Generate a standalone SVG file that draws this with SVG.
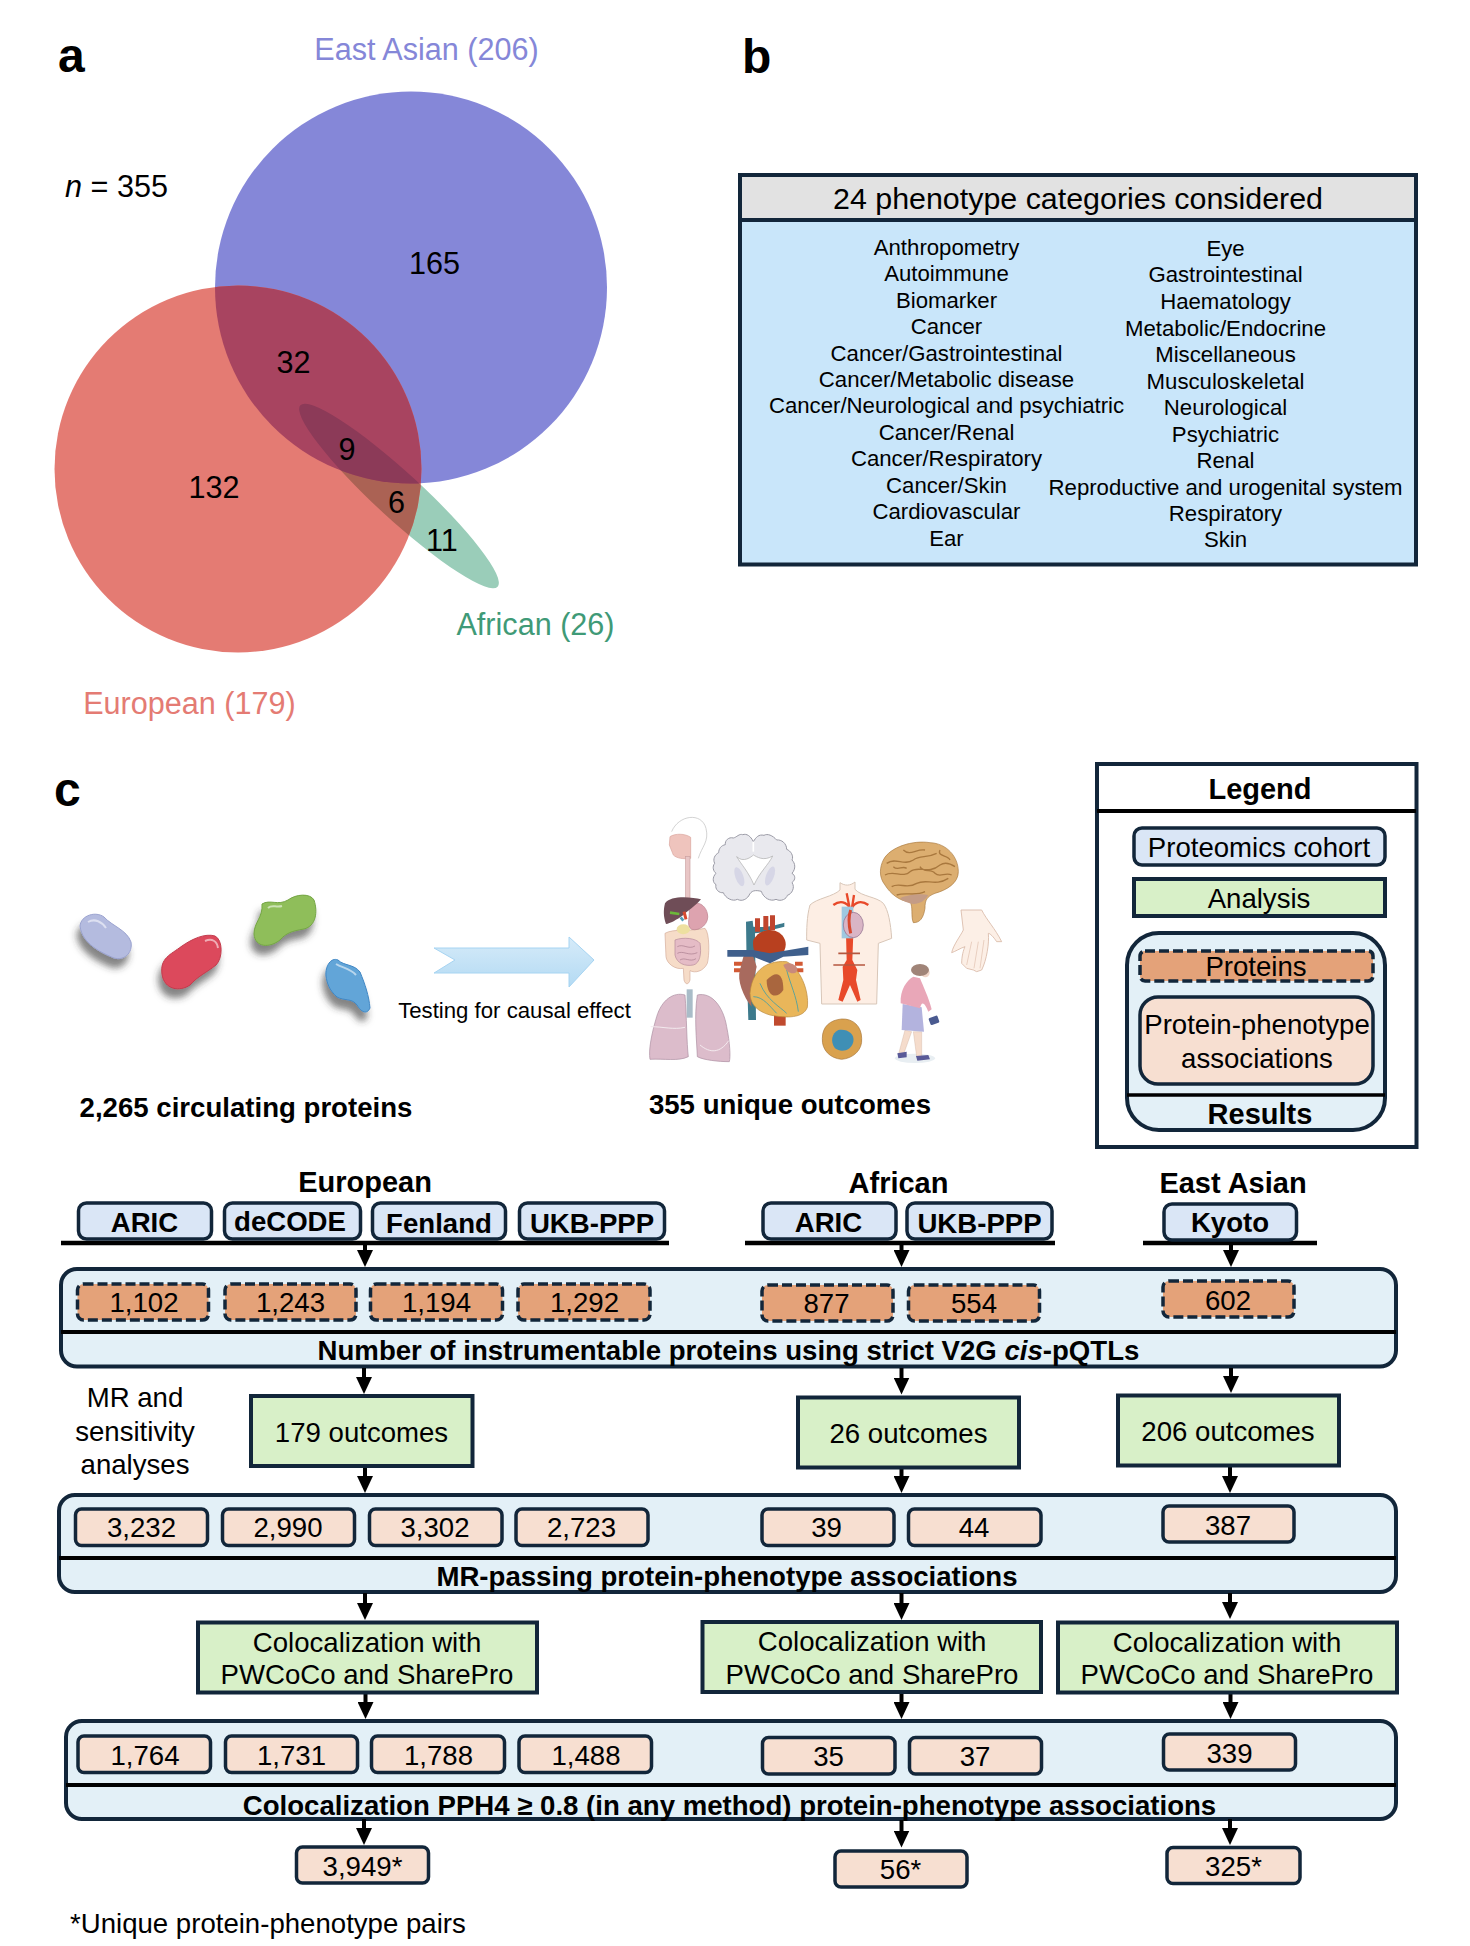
<svg xmlns="http://www.w3.org/2000/svg" width="1470" height="1946" viewBox="0 0 1470 1946">
<style>
text{font-family:"Liberation Sans",Arial,Helvetica,sans-serif;fill:#000;text-anchor:middle;font-size:27.6px}
.b{font-weight:700}
.h{font-weight:700;font-size:29px}
.st{text-anchor:start}
.lab{font-size:48px;font-weight:700;text-anchor:start}
.v{font-size:30.6px}
.l{font-size:22.2px}
.coh{fill:#dae6f6;stroke:#12263a;stroke-width:3.5}
.pro{fill:#e4a279;stroke:#12263a;stroke-width:3.5;stroke-dasharray:10 4}
.ass{fill:#f7dfd1;stroke:#12263a;stroke-width:3.5}
.ana{fill:#d8f0c8;stroke:#12263a;stroke-width:4}
.res{fill:#e3f0f7;stroke:#12263a;stroke-width:4}
.bar{stroke:#000;stroke-width:4.5}
.ln{stroke:#000;stroke-width:4;marker-end:url(#ah)}
.sh{filter:url(#ds)}
</style>
<defs>
<marker id="ah" markerUnits="userSpaceOnUse" viewBox="0 0 17 16" markerWidth="17" markerHeight="16" refX="5" refY="8" orient="auto"><path d="M0 0L17 8L0 16Z" fill="#000"/></marker>
<linearGradient id="ag" x1="0" y1="0" x2="0" y2="1"><stop offset="0" stop-color="#d6ebf9"/><stop offset="1" stop-color="#b3daf3"/></linearGradient>
<filter id="ds" x="-40%" y="-40%" width="180%" height="200%"><feDropShadow dx="-3" dy="9" stdDeviation="3.5" flood-color="#333" flood-opacity=".6"/></filter>
<clipPath id="cr"><circle cx="238" cy="469" r="183.5"/></clipPath>
<clipPath id="cb"><circle cx="411" cy="287.5" r="196"/></clipPath>
</defs>

<g id="panel-a">
<text class="lab" x="58" y="72">a</text>
<text class="v" x="426.500" y="60" style="fill:#8587d8">East Asian (206)</text>
<text class="v" x="535.500" y="635" style="fill:#3f9a77">African (26)</text>
<text class="v" x="189.500" y="713.500" style="fill:#e47b73">European (179)</text>
<text class="v st" x="65" y="197"><tspan font-style="italic">n</tspan> = 355</text>
<g id="venn-green"><ellipse cx="399" cy="496" rx="134" ry="23" transform="rotate(42.6 399 496)" fill="#9acdb9"/></g>
<g id="venn-blue"><circle cx="411" cy="287.5" r="196" fill="#8587d8"/></g>
<g id="venn-red"><circle cx="238" cy="469" r="183.5" fill="#e47b73"/></g>
<g clip-path="url(#cr)"><ellipse cx="399" cy="496" rx="134" ry="23" transform="rotate(42.6 399 496)" fill="#ab6254"/>
<g clip-path="url(#cb)"><rect x="0" y="0" width="700" height="700" fill="#a84460"/><ellipse cx="399" cy="496" rx="134" ry="23" transform="rotate(42.6 399 496)" fill="#8c3a58"/></g></g>
<text class="v" x="434.500" y="274">165</text>
<text class="v" x="293.500" y="373">32</text>
<text class="v" x="347" y="460">9</text>
<text class="v" x="214" y="498">132</text>
<text class="v" x="396.500" y="513">6</text>
<text class="v" x="442" y="551">11</text>
</g>

<g id="panel-b">
<text class="lab" x="742" y="73">b</text>
<rect x="740" y="175" width="676" height="389.500" fill="#c9e6fa" stroke="#12263a" stroke-width="4"/>
<rect x="740" y="175" width="676" height="45" fill="#e2e2e2" stroke="#12263a" stroke-width="4"/>
<text x="1078" y="208.500" style="font-size:30.4px">24 phenotype categories considered</text>
<g class="col">
<text class="l" x="946.500" y="254.500">Anthropometry</text>
<text class="l" x="946.500" y="281">Autoimmune</text>
<text class="l" x="946.500" y="307.500">Biomarker</text>
<text class="l" x="946.500" y="333.800">Cancer</text>
<text class="l" x="946.500" y="360.500">Cancer/Gastrointestinal</text>
<text class="l" x="946.500" y="386.700">Cancer/Metabolic disease</text>
<text class="l" x="946.500" y="413.200">Cancer/Neurological and psychiatric</text>
<text class="l" x="946.500" y="439.700">Cancer/Renal</text>
<text class="l" x="946.500" y="466.100">Cancer/Respiratory</text>
<text class="l" x="946.500" y="492.500">Cancer/Skin</text>
<text class="l" x="946.500" y="519">Cardiovascular</text>
<text class="l" x="946.500" y="545.500">Ear</text>
<text class="l" x="1225.500" y="255.500">Eye</text>
<text class="l" x="1225.500" y="282">Gastrointestinal</text>
<text class="l" x="1225.500" y="308.500">Haematology</text>
<text class="l" x="1225.500" y="335.500">Metabolic/Endocrine</text>
<text class="l" x="1225.500" y="361.500">Miscellaneous</text>
<text class="l" x="1225.500" y="388.500">Musculoskeletal</text>
<text class="l" x="1225.500" y="414.500">Neurological</text>
<text class="l" x="1225.500" y="441.500">Psychiatric</text>
<text class="l" x="1225.500" y="467.500">Renal</text>
<text class="l" x="1225.500" y="494.500">Reproductive and urogenital system</text>
<text class="l" x="1225.500" y="521">Respiratory</text>
<text class="l" x="1225.500" y="547">Skin</text>
</g>
</g>

<g id="panel-c-top">
<text class="lab" x="54" y="806">c</text>
<g id="protein-blobs">
<path class="sh" d="M80 926C81 915 96 911 104 917C112 926 127 930 131 942C133 953 124 961 114 958C102 953 82 944 80 926Z" fill="#b4bbdf" stroke="#9aa2cf"/>
<path class="sh" d="M162 974C160 958 170 955 182 946C192 939 205 933 215 936C223 940 223 958 216 965C206 973 198 976 190 985C180 992 164 990 162 974Z" fill="#dc4a5c" stroke="#c23a4c"/>
<path class="sh" d="M262 904C270 899 278 906 288 900C296 894 310 893 314 900C318 912 316 926 304 929C292 931 286 933 280 940C270 948 255 948 254 934C254 922 263 918 262 904Z" fill="#8fbe5a" stroke="#74a544"/>
<path class="sh" d="M326 976C325 966 331 957 338 960C344 966 354 964 360 972C365 984 369 996 370 1008C367 1015 361 1012 357 1005C352 998 344 1001 337 997C329 990 327 983 326 976Z" fill="#62a5d8" stroke="#3f86c4"/>
<path d="M88 922C95 918 102 922 106 928M205 941C212 938 217 941 218 948M268 908C272 904 276 908 282 906M336 964C342 968 350 968 356 975" fill="none" stroke="#fff" stroke-opacity=".55" stroke-width="2"/>
</g>
<path id="big-arrow" d="M434 948H569V937L594 960L569 987V973H434L455 960Z" fill="url(#ag)" stroke="#a6d4f2" stroke-width="1"/>
<text class="l" x="514.500" y="1018">Testing for causal effect</text>
<text class="b" x="246" y="1116.500">2,265 circulating proteins</text>
<text class="b" x="790" y="1113.500">355 unique outcomes</text>

<g id="organs" transform="translate(620 800) scale(.33333)">
<g id="digestive">
<path d="M155 95C175 45 245 35 258 85C268 125 245 140 235 175" fill="none" stroke="#bdbdbd" stroke-width="2"/>
<path d="M150 110C165 100 195 100 212 112L212 175C190 178 170 175 160 165L148 135Z" fill="#efc4bd" stroke="#d9a39c" stroke-width="2"/>
<rect x="197" y="170" width="13" height="125" fill="#e9c6c6" stroke="#c9a0a0" stroke-width="2"/>
<path d="M135 400C160 385 210 395 255 385C270 400 268 470 262 490C250 515 225 520 210 512L210 540C206 555 196 555 192 540L190 505C165 510 140 490 138 470Z" fill="#f6dcc8" stroke="#d3ab98" stroke-width="2"/>
<path d="M165 420C190 410 230 415 240 430C245 460 240 490 220 495C195 500 170 490 165 465Z" fill="#e5bcc6" stroke="#b58a98" stroke-width="2"/>
<path d="M172 440C190 430 205 450 225 438M172 460C190 450 205 470 232 458M180 480C195 470 210 488 228 476" fill="none" stroke="#a87c8c" stroke-width="2"/>
<ellipse cx="190" cy="388" rx="20" ry="15" fill="#ede0a0"/>
<path d="M205 318C225 300 255 310 262 340C270 370 240 395 215 388C195 375 215 345 205 318Z" fill="#dda3af" stroke="#b97d8b" stroke-width="2"/>
<path d="M135 310C150 285 215 290 243 298C225 320 205 330 190 345C170 360 150 370 138 372C130 350 130 330 135 310Z" fill="#6f4d57"/>
<path d="M150 338L178 342" stroke="#6cb83a" stroke-width="8"/>
<path d="M192 335L198 358" stroke="#d8492f" stroke-width="9"/><path d="M182 352L190 362" stroke="#4f9db8" stroke-width="8"/>
</g>
<g id="lungs">
<rect x="200" y="568" width="18" height="85" fill="#a9bcc8"/>
<path d="M195 585C160 575 125 600 110 650C95 700 85 750 90 778C130 775 175 785 205 770C200 730 200 650 195 585Z" fill="#dcbccb" stroke="#ab8ca0" stroke-width="2"/>
<path d="M232 585C275 575 310 620 320 680C330 730 332 770 328 785C295 785 250 780 232 770C230 720 222 650 232 585Z" fill="#dcbccb" stroke="#ab8ca0" stroke-width="2"/>
<path d="M92 680C130 680 160 690 195 682M240 735C270 760 300 760 326 722" fill="none" stroke="#f3eaee" stroke-width="3"/>
</g>
<g id="coronal-brain">
<path d="M400 125C392 108 380 100 368 104C358 100 350 112 340 114C326 110 314 122 316 134C304 136 296 146 296 158C284 164 278 178 284 190C276 200 280 214 288 220C276 232 278 248 288 254C284 268 298 280 310 278C316 294 338 306 352 298C368 306 380 296 386 288C394 270 406 270 424 274C430 294 452 306 468 298C484 306 500 296 502 286C516 282 526 262 516 248C528 238 526 226 516 220C528 206 526 190 516 180C522 168 512 152 500 148C500 130 484 118 470 120C458 106 442 100 432 106C416 102 408 112 400 125Z" fill="#e9e9ee" stroke="#9a9aa5" stroke-width="3"/>
<path d="M350 170C370 190 395 170 400 165C410 170 430 185 458 168C445 195 420 215 402 255C385 215 365 195 350 170Z" fill="#fff" stroke="#aaa" stroke-width="2"/>
<ellipse cx="358" cy="230" rx="12" ry="30" fill="#d6d6e6" transform="rotate(-20 358 230)"/><ellipse cx="450" cy="228" rx="12" ry="30" fill="#d6d6e6" transform="rotate(20 450 228)"/>
<path d="M400 125V155" stroke="#fff" stroke-width="5"/>
</g>
<g id="heart">
<path d="M378 365L398 362L400 380C430 385 470 375 493 368L493 380C470 385 440 395 405 400L408 660L385 660L380 500Z" fill="#3d7a8c"/>
<path d="M405 355H420V395H405ZM430 348H445V390H430ZM450 346H465V390H450Z" fill="#c0452e"/>
<path d="M342 485H370V497H342ZM342 505H370V517H342ZM525 485H548V497H525ZM528 505H550V517H528Z" fill="#d25a35"/>
<path d="M400 420C420 380 480 380 495 420C505 450 480 480 440 480C410 480 395 450 400 420Z" fill="#b8401f"/>
<path d="M462 640H497V677H462Z" fill="#c04a2e"/>
<path d="M370 470C395 440 400 470 410 500C400 540 390 590 395 620C370 590 350 540 360 510Z" fill="#a86a5e"/>
<path d="M390 580C395 520 430 480 500 485C540 505 568 570 562 622C550 655 500 655 450 645C415 635 390 615 390 580Z" fill="#e9b65a" stroke="#b8863a" stroke-width="2"/>
<path d="M440 540C470 510 490 520 490 570C470 600 440 590 440 540Z" fill="#a9663e"/>
<path d="M420 550C440 600 480 620 500 640M500 510C510 550 530 590 535 635M400 590C430 590 450 620 470 640" fill="none" stroke="#5ea39a" stroke-width="3"/>
<path d="M322 450L400 450L450 460L565 440L565 465L490 470L450 490L400 470L322 470Z" fill="#3f5f8c"/>
<path d="M490 495C510 480 540 500 530 515C520 525 500 520 490 495Z" fill="#c98a7c"/>
</g>
<g id="torso">
<path d="M660 248L660 270C640 290 590 295 570 315C560 350 560 390 560 420L600 430L605 612L770 612L775 430L815 415C812 370 805 330 790 310C770 290 725 290 705 268L705 246C690 258 675 258 660 248Z" fill="#fdeee4" stroke="#d8c6b8" stroke-width="3"/>
<path d="M640 315C660 300 680 305 690 325M745 315C725 300 705 305 695 325M680 280L690 330M702 285L695 330" fill="none" stroke="#e8492a" stroke-width="7"/>
<path d="M678 400L700 400L697 480L712 510L708 540L722 600L712 605L690 555L668 605L655 600L670 540L668 500L680 480Z" fill="#e8492a"/>
<rect x="665" y="320" width="35" height="95" fill="#9ec8e0"/>
<ellipse cx="700" cy="375" rx="30" ry="38" fill="#d9b5c5" stroke="#8a6a8a" stroke-width="2"/>
<path d="M692 330C685 350 685 370 692 400" fill="none" stroke="#d8492f" stroke-width="9"/>
<path d="M655 460L720 460M640 495L735 495" stroke="#b5573f" stroke-width="5"/>
</g>
<g id="brain">
<path d="M790 180C810 140 880 120 930 128C980 130 1015 170 1015 215C1015 250 980 270 945 280C920 290 915 300 915 325C910 355 900 368 880 368C872 350 880 320 870 305C840 305 810 280 795 255C775 230 780 200 790 180Z" fill="#dcae70" stroke="#a9783e" stroke-width="2"/>
<path d="M800 190C830 170 850 200 880 180C900 165 920 175 950 160M795 225C820 210 850 235 870 215C895 195 925 225 960 195C975 185 990 190 1005 200M815 260C840 245 860 270 890 250C920 235 945 260 985 235M850 150C870 170 890 145 915 150M830 285C860 275 885 290 915 275M820 200C835 215 845 195 860 205M900 200C910 220 935 205 945 220C960 235 975 215 995 225M960 150C950 170 985 165 990 180" fill="none" stroke="#a9783e" stroke-width="4"/>
<path d="M840 295C860 285 900 280 925 285C915 300 905 310 880 312C865 310 850 305 840 295Z" fill="#c49c86"/>
</g>
<g id="hand">
<path d="M1023 330L1085 330C1100 360 1125 385 1145 425L1130 425C1120 410 1110 400 1105 400C1108 430 1100 480 1085 510L1070 515L1060 510L1040 505L1025 490C1025 470 1030 450 1035 440C1020 445 1005 455 995 458C1000 435 1020 410 1030 390Z" fill="#fcefe6" stroke="#d9b8a6" stroke-width="2.500"/>
<path d="M1055 425L1040 495M1075 425L1062 505M1092 420L1080 505" fill="none" stroke="#e9cfc0" stroke-width="3"/>
</g>
<g id="person">
<ellipse cx="885" cy="775" rx="60" ry="14" fill="#e8eef2"/>
<path d="M855 690L835 765L850 765L875 695ZM880 695L890 770L905 770L905 695Z" fill="#f5dccc" stroke="#c9a896" stroke-width="1"/>
<path d="M832 760L860 755L860 772L835 775ZM888 768L925 765L930 778L892 782Z" fill="#5a5a98"/>
<path d="M848 612L905 622L912 695L845 690Z" fill="#b3b3de"/>
<path d="M880 530C860 540 840 570 842 610L900 625C905 600 915 610 925 635L935 628C925 590 910 560 900 535Z" fill="#e9a7b8"/>
<ellipse cx="916" cy="518" rx="13" ry="14" fill="#f0d5c8"/>
<ellipse cx="900" cy="510" rx="27" ry="18" fill="#a08478"/>
<rect x="928" y="650" width="28" height="22" rx="4" transform="rotate(-20 942 661)" fill="#4a5a90"/>
</g>
<g id="cell">
<path d="M665 657C700 655 725 680 725 715C728 750 700 775 665 778C630 775 605 750 607 715C607 680 630 660 665 657Z" fill="#d9a14e" stroke="#a8763a" stroke-width="2"/>
<path d="M655 690C680 685 705 700 700 725C695 750 665 760 645 745C630 725 635 700 655 690Z" fill="#3f8fb5"/>
</g>
</g>
</g>

<g id="legend">
<rect x="1097" y="764" width="319.500" height="383" fill="#fff" stroke="#12263a" stroke-width="4"/>
<path d="M1097 811H1416" stroke="#000" stroke-width="4"/>
<text class="h" x="1260" y="799">Legend</text>
<rect class="coh" x="1134" y="828" width="251" height="37" rx="8"/>
<text x="1259" y="857">Proteomics cohort</text>
<rect class="ana" x="1134" y="879" width="251" height="37"/>
<text x="1259" y="907.500">Analysis</text>
<rect class="res" x="1127" y="933" width="258" height="197" rx="32"/>
<path d="M1127 1095H1385" stroke="#000" stroke-width="3.500"/>
<rect class="pro" x="1140" y="951" width="233" height="30" rx="5"/>
<text x="1256" y="976">Proteins</text>
<rect class="ass" x="1140" y="997" width="233" height="87" rx="18"/>
<text x="1257" y="1034">Protein-phenotype</text>
<text x="1257" y="1068">associations</text>
<text class="h" x="1260" y="1123.500">Results</text>
</g>

<g id="pop-headers">
<text class="h" x="365" y="1191.500">European</text>
<text class="h" x="898.500" y="1193">African</text>
<text class="h" x="1233" y="1193">East Asian</text>
</g>

<g id="panel-1-bg">
<rect class="res" x="61" y="1269" width="1335" height="97.500" rx="16"/>
<path d="M61 1332H1396" stroke="#000" stroke-width="4"/>
<text class="b" x="728.500" y="1359.500">Number of instrumentable proteins using strict V2G <tspan font-style="italic">cis</tspan>-pQTLs</text>
</g>
<g id="panel-2-bg">
<rect class="res" x="59" y="1495" width="1337" height="97" rx="16"/>
<path d="M59 1558H1396" stroke="#000" stroke-width="4"/>
<text class="b" x="727" y="1585.500">MR-passing protein-phenotype associations</text>
</g>
<g id="panel-3-bg">
<rect class="res" x="66" y="1721" width="1330" height="98" rx="16"/>
<path d="M66 1785H1396" stroke="#000" stroke-width="4"/>
<text class="b" x="729.500" y="1815">Colocalization PPH4 ≥ 0.8 (in any method) protein-phenotype associations</text>
</g>

<g id="connectors">
<path class="bar" d="M61 1243H669M745 1243H1055M1143 1243H1317" fill="none"/>
<path class="ln" d="M365 1244V1255"/>
<path class="ln" d="M901.500 1244V1255"/>
<path class="ln" d="M1231 1244V1255"/>
<path class="ln" d="M364 1368V1382"/>
<path class="ln" d="M901.500 1368V1382.500"/>
<path class="ln" d="M1231 1368V1381"/>
<path class="ln" d="M365 1468V1481"/>
<path class="ln" d="M901.500 1469V1481"/>
<path class="ln" d="M1230 1467V1481"/>
<path class="ln" d="M365 1593V1608"/>
<path class="ln" d="M901.500 1593V1608"/>
<path class="ln" d="M1230 1593V1607"/>
<path class="ln" d="M365.500 1694V1707"/>
<path class="ln" d="M901.500 1694V1707"/>
<path class="ln" d="M1230.500 1694V1707"/>
<path class="ln" d="M364 1819V1833"/>
<path class="ln" d="M901.500 1820V1835.500"/>
<path class="ln" d="M1230 1819V1833"/>
</g>

<g id="cohort-eur-aric"><rect class="coh" x="78.500" y="1203" width="133" height="36" rx="8"/><text class="b" x="144.500" y="1231.500">ARIC</text></g>
<g id="cohort-eur-decode"><rect class="coh" x="224.500" y="1203" width="136" height="36" rx="8"/><text class="b" x="290" y="1230.500">deCODE</text></g>
<g id="cohort-eur-fenland"><rect class="coh" x="372.500" y="1203" width="133" height="36" rx="8"/><text class="b" x="439" y="1233">Fenland</text></g>
<g id="cohort-eur-ukb"><rect class="coh" x="519.500" y="1203" width="145" height="36" rx="8"/><text class="b" x="592" y="1232.500">UKB-PPP</text></g>
<g id="cohort-afr-aric"><rect class="coh" x="763" y="1203" width="133" height="36" rx="8"/><text class="b" x="828.500" y="1231.500">ARIC</text></g>
<g id="cohort-afr-ukb"><rect class="coh" x="907" y="1203" width="145" height="36" rx="8"/><text class="b" x="979.500" y="1232.500">UKB-PPP</text></g>
<g id="cohort-eas-kyoto"><rect class="coh" x="1164" y="1204" width="132.500" height="36" rx="8"/><text class="b" x="1230" y="1231.500">Kyoto</text></g>

<g id="p-1102"><rect class="pro" x="77.500" y="1284" width="131" height="36" rx="6"/><text x="144" y="1312">1,102</text></g>
<g id="p-1243"><rect class="pro" x="225" y="1284" width="131" height="36" rx="6"/><text x="290.500" y="1312">1,243</text></g>
<g id="p-1194"><rect class="pro" x="370.500" y="1284" width="132" height="36" rx="6"/><text x="436.500" y="1312">1,194</text></g>
<g id="p-1292"><rect class="pro" x="518" y="1284" width="132" height="36" rx="6"/><text x="584.500" y="1312">1,292</text></g>
<g id="p-877"><rect class="pro" x="762" y="1285" width="131" height="36" rx="6"/><text x="826.500" y="1313">877</text></g>
<g id="p-554"><rect class="pro" x="908.500" y="1285" width="131" height="36" rx="6"/><text x="974" y="1313">554</text></g>
<g id="p-602"><rect class="pro" x="1163" y="1281" width="131" height="36" rx="6"/><text x="1228" y="1310">602</text></g>

<g id="a-179"><rect class="ana" x="251" y="1396" width="221.500" height="70"/><text x="361.500" y="1442">179 outcomes</text></g>
<g id="a-26"><rect class="ana" x="798" y="1397.500" width="221" height="70"/><text x="908.500" y="1443">26 outcomes</text></g>
<g id="a-206"><rect class="ana" x="1118" y="1395.500" width="221" height="70"/><text x="1228" y="1441">206 outcomes</text></g>
<g id="mr-label"><text x="135" y="1406.500">MR and</text><text x="135" y="1440.500">sensitivity</text><text x="135" y="1474">analyses</text></g>

<g id="m-3232"><rect class="ass" x="75.500" y="1509" width="132" height="36.500" rx="6"/><text x="141.500" y="1537">3,232</text></g>
<g id="m-2990"><rect class="ass" x="222.500" y="1509" width="132" height="36.500" rx="6"/><text x="288" y="1537">2,990</text></g>
<g id="m-3302"><rect class="ass" x="369.500" y="1509" width="132.500" height="36.500" rx="6"/><text x="435" y="1537">3,302</text></g>
<g id="m-2723"><rect class="ass" x="516" y="1509" width="132" height="36.500" rx="6"/><text x="581.500" y="1537">2,723</text></g>
<g id="m-39"><rect class="ass" x="762" y="1509" width="132" height="36.500" rx="6"/><text x="826.500" y="1537">39</text></g>
<g id="m-44"><rect class="ass" x="908.500" y="1509" width="132.500" height="36.500" rx="6"/><text x="974" y="1537">44</text></g>
<g id="m-387"><rect class="ass" x="1163" y="1506" width="131" height="36" rx="6"/><text x="1228" y="1534.500">387</text></g>

<g id="c-eur"><rect class="ana" x="198" y="1622.500" width="339" height="70"/><text x="367" y="1651.500">Colocalization with</text><text x="367" y="1684">PWCoCo and SharePro</text></g>
<g id="c-afr"><rect class="ana" x="702.500" y="1622" width="338.500" height="70"/><text x="872" y="1651">Colocalization with</text><text x="872" y="1684">PWCoCo and SharePro</text></g>
<g id="c-eas"><rect class="ana" x="1058" y="1622.500" width="339" height="70"/><text x="1227" y="1651.500">Colocalization with</text><text x="1227" y="1684">PWCoCo and SharePro</text></g>

<g id="q-1764"><rect class="ass" x="78" y="1736" width="132.500" height="36.500" rx="6"/><text x="145" y="1765">1,764</text></g>
<g id="q-1731"><rect class="ass" x="225.500" y="1736" width="132" height="36.500" rx="6"/><text x="291.500" y="1765">1,731</text></g>
<g id="q-1788"><rect class="ass" x="371.500" y="1736" width="133" height="36.500" rx="6"/><text x="438.500" y="1765">1,788</text></g>
<g id="q-1488"><rect class="ass" x="519" y="1736" width="132.500" height="36.500" rx="6"/><text x="586" y="1765">1,488</text></g>
<g id="q-35"><rect class="ass" x="762.500" y="1737.500" width="132.500" height="36.500" rx="6"/><text x="828.500" y="1766">35</text></g>
<g id="q-37"><rect class="ass" x="909.500" y="1737.500" width="132" height="36.500" rx="6"/><text x="975" y="1766">37</text></g>
<g id="q-339"><rect class="ass" x="1163.500" y="1734" width="132" height="36" rx="6"/><text x="1229.500" y="1763">339</text></g>

<g id="f-3949"><rect class="ass" x="296.500" y="1847" width="132" height="36" rx="6"/><text x="362.500" y="1876">3,949*</text></g>
<g id="f-56"><rect class="ass" x="835" y="1851" width="132" height="36" rx="6"/><text x="900.500" y="1879">56*</text></g>
<g id="f-325"><rect class="ass" x="1167" y="1847.500" width="133" height="36" rx="6"/><text x="1233.500" y="1875.500">325*</text></g>

<text id="footnote" class="st" x="70" y="1932.500">*Unique protein-phenotype pairs</text>
</svg>
